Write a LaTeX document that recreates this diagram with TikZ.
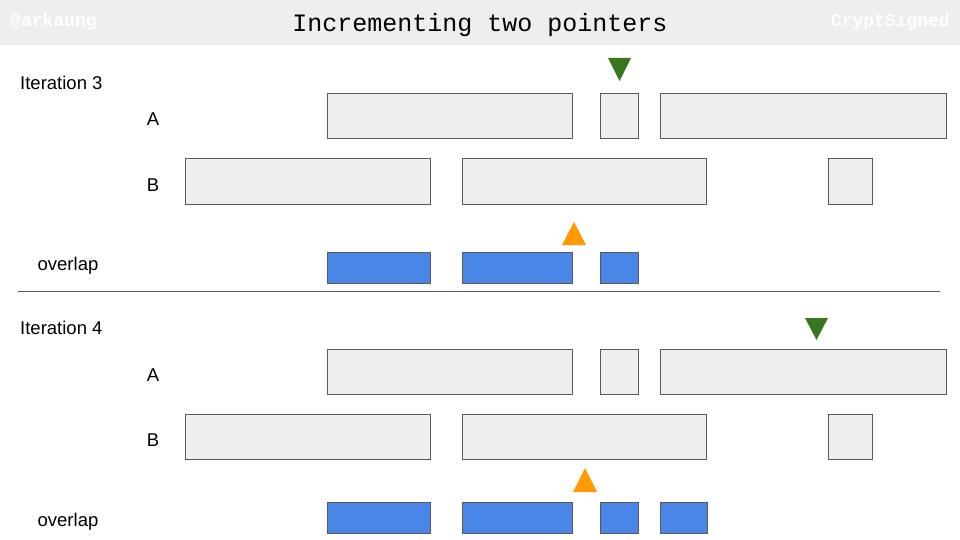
\documentclass[tikz,border=0pt]{standalone}
\usepackage{fontspec}
\setmainfont{Liberation Sans}
\newfontfamily\monofont{Liberation Mono}
\usetikzlibrary{positioning}
\definecolor{boxgray}{HTML}{EEEEEE}
\definecolor{edgegray}{HTML}{595959}
\definecolor{ovblue}{HTML}{4A86E8}
\definecolor{ptrgreen}{HTML}{38761D}
\definecolor{ptrorange}{HTML}{FF9900}
\begin{document}
\begin{tikzpicture}[
    x=1pt, y=-1pt,
    box/.style={rectangle,draw=edgegray,fill=boxgray,line width=1pt,anchor=north west,inner sep=0pt,outer sep=0pt},
    ov/.style={box,fill=ovblue},
    lbl/.style={font=\fontsize{18.5}{22}\selectfont,inner sep=0pt},
    hdr/.style={font=\monofont\bfseries\fontsize{18}{22}\selectfont,text=white,inner sep=0pt}]
    \useasboundingbox (0,0) rectangle (960,540);
    \fill[boxgray] (0,0) rectangle (960,45);
    \node[font=\monofont\fontsize{25}{30}\selectfont,inner sep=0pt] (title) at (480,25) {Incrementing two pointers};
    \node[hdr,anchor=west] (author) at (10,22) {@arkaung};
    \node[hdr,anchor=east] (brand) at (950,22) {CryptSigned};
    % iteration 3
    \node[lbl,anchor=west] (it3) at (20,83) {Iteration 3};
    \node[lbl] (a3) at (153,119) {A};
    \node[lbl] (b3) at (153,185) {B};
    \node[lbl] (o3) at (68,266) {overlap};
    \node[box,minimum width=245pt,minimum height=45pt] (a3x) at (327,94) {};
    \node[box,minimum width=38pt,minimum height=45pt] (a3y) at (600,94) {};
    \node[box,minimum width=286pt,minimum height=45pt] (a3z) at (660,94) {};
    \node[box,minimum width=245pt,minimum height=45pt] (b3x) at (185,159) {};
    \node[box,minimum width=244pt,minimum height=45pt] (b3y) at (462,159) {};
    \node[box,minimum width=44pt,minimum height=45pt] (b3z) at (828,159) {};
    \node[ov,minimum width=103pt,minimum height=31pt] (o3x) at (327,252) {};
    \node[ov,minimum width=110pt,minimum height=31pt] (o3y) at (462,252) {};
    \node[ov,minimum width=38pt,minimum height=31pt] (o3z) at (600,252) {};
    \fill[ptrgreen] (608,58) -- (631,58) -- (619.5,81) -- cycle;
    \fill[ptrorange] (562,245) -- (586,245) -- (574,222) -- cycle;
    \draw[edgegray,line width=0.8pt] (18,291) -- (940,291);
    % iteration 4
    \node[lbl,anchor=west] (it4) at (20,328) {Iteration 4};
    \node[lbl] (a4) at (153,375) {A};
    \node[lbl] (b4) at (153,440) {B};
    \node[lbl] (o4) at (68,522) {overlap};
    \node[box,minimum width=245pt,minimum height=45pt] (a4x) at (327,349) {};
    \node[box,minimum width=38pt,minimum height=45pt] (a4y) at (600,349) {};
    \node[box,minimum width=286pt,minimum height=45pt] (a4z) at (660,349) {};
    \node[box,minimum width=245pt,minimum height=45pt] (b4x) at (185,414) {};
    \node[box,minimum width=244pt,minimum height=45pt] (b4y) at (462,414) {};
    \node[box,minimum width=44pt,minimum height=45pt] (b4z) at (828,414) {};
    \node[ov,minimum width=103pt,minimum height=31pt] (o4x) at (327,502) {};
    \node[ov,minimum width=110pt,minimum height=31pt] (o4y) at (462,502) {};
    \node[ov,minimum width=38pt,minimum height=31pt] (o4z) at (600,502) {};
    \node[ov,minimum width=47pt,minimum height=31pt] (o4w) at (660,502) {};
    \fill[ptrgreen] (805,318) -- (828,318) -- (816.5,340) -- cycle;
    \fill[ptrorange] (573,492) -- (597,492) -- (585,468) -- cycle;
  \end{tikzpicture}
\end{document}
